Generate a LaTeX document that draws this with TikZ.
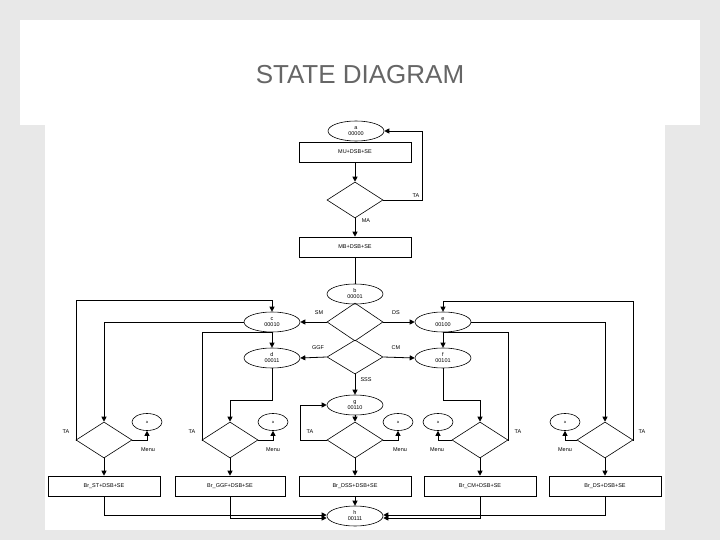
\documentclass[tikz,border=0pt]{standalone}
\usepackage{fontspec}
\setmainfont{Liberation Sans}
\usetikzlibrary{shapes.geometric,arrows.meta}
\begin{document}
\begin{tikzpicture}[x=1pt,y=-1pt,
  st/.style={ellipse,draw,line width=0.6pt,minimum width=56pt,minimum height=20pt,inner sep=0pt,font=\fontsize{5.5}{6}\selectfont,align=center},
  sm/.style={ellipse,draw,line width=0.6pt,minimum width=30pt,minimum height=17pt,inner sep=0pt,font=\fontsize{4}{4}\selectfont},
  bx/.style={rectangle,draw,line width=0.6pt,minimum width=112pt,minimum height=20pt,inner sep=0pt,font=\fontsize{5.5}{6}\selectfont},
  dm/.style={diamond,draw,line width=0.6pt,minimum width=56pt,minimum height=36pt,inner sep=0pt,aspect=1.5},
  ar/.style={-{Triangle[length=5pt,width=5pt]},line width=0.8pt},
  ln/.style={line width=0.8pt},
  lb/.style={font=\fontsize{5.5}{6}\selectfont,inner sep=1pt}]
\fill[gray!18] (0,0) rectangle (720,540);
\useasboundingbox (0,0) rectangle (720,540);
\fill[white] (20,20) rectangle (700,125);
\fill[white] (45,118) rectangle (665,530);
\node[text=black!60,font=\fontsize{26}{28}\selectfont] (title) at (360,75) {STATE DIAGRAM};
% top chain
\node[st] (a) at (356,131) {a\\00000};
\node[bx] (mu) at (355,152) {MU+DSB+SE};
\node[dm] (d1) at (355,200) {};
\node[bx] (mb) at (355,247) {MB+DSB+SE};
\node[st] (b) at (355,294) {b\\00001};
\draw[ar] (mu) -- (d1);
\coordinate (t1) at (422,200);
\draw[ar] (d1.east) -- (t1) |- (a.east);
\node[lb] (lta) at (416,196) {TA};
\draw[ar] (d1.south) -- (mb.north);
\node[lb] (lma) at (366,221) {MA};
\draw[ln] (mb.south) -- (b.north);
% central diamonds
\node[dm,minimum height=38pt] (du) at (355,322) {};
\node[dm,minimum height=34pt] (dl) at (355,357) {};
\node[st] (c) at (272,322) {c\\00010};
\node[st] (e) at (443,322) {e\\00100};
\node[st] (d) at (272,358) {d\\00011};
\node[st] (f) at (443,358) {f\\00101};
\draw[ar] (du.west) -- (c.east);
\draw[ar] (du.east) -- (e.west);
\draw[ar] (dl.west) -- (d.east);
\draw[ar] (dl.east) -- (f.west);
\node[lb] (lsm) at (319,313) {SM};
\node[lb] (lds) at (396,313) {DS};
\node[lb] (lggf) at (318,348) {GGF};
\node[lb] (lcm) at (396,348) {CM};
\node[st] (g) at (355,405) {g\\00110};
\draw[ar] (dl.south) -- (g.north);
\node[lb] (lsss) at (366,380) {SSS};
\draw[ar] (c.south) -- (d.north);
\draw[ar] (e.south) -- (f.north);
% bottom diamonds
\foreach \n/\x in {b1/104,b2/230,b3/355,b4/480,b5/605}{\node[dm] (\n) at (\x,440) {};}
\node[sm] (m1) at (147,422) {a};
\node[sm] (m2) at (273,422) {a};
\node[sm] (m3) at (398,422) {a};
\node[sm] (m4) at (438,422) {a};
\node[sm] (m5) at (565,422) {a};
\draw[ar] (b1.east) -| (m1.south);
\draw[ar] (b2.east) -| (m2.south);
\draw[ar] (b3.east) -| (m3.south);
\draw[ar] (b4.west) -| (m4.south);
\draw[ar] (b5.west) -| (m5.south);
\node[lb] (mn1) at (148,450) {Menu};
\node[lb] (mn2) at (273,450) {Menu};
\node[lb] (mn3) at (400,450) {Menu};
\node[lb] (mn4) at (437,450) {Menu};
\node[lb] (mn5) at (565,450) {Menu};
% left routes
\coordinate (p1) at (76,440);
\draw[ar] (b1.west) -- (p1) |- (272,300) -- (c.north);
\draw[ar] (c.west) -| (b1.north);
\coordinate (p2) at (202,332);
\draw[ln] (b2.west) -- (202,440) |- (272,332);
\draw[ln] (d.south) |- (230,400);
\draw[ar] (230,400) -- (b2.north);
\node[lb] (ta1) at (66,432) {TA};
\node[lb] (ta2) at (192,432) {TA};
% center route
\draw[ar] (g.south) -- (b3.north);
\draw[ar] (b3.west) -- (300,440) |- (g.west);
\node[lb] (ta3) at (310,432) {TA};
% right routes
\draw[ar] (b5.east) -- (633,440) |- (443,301) -- (e.north);
\draw[ar] (e.east) -| (b5.north);
\draw[ln] (b4.east) -- (508,440) |- (443,332);
\draw[ln] (f.south) |- (480,400);
\draw[ar] (480,400) -- (b4.north);
\node[lb] (ta4) at (518,432) {TA};
\node[lb] (ta5) at (642,432) {TA};
% boxes
\node[bx] (r1) at (104,486) {Br\_ST+DSB+SE};
\node[bx,minimum width=110pt] (r2) at (230,486) {Br\_GGF+DSB+SE};
\node[bx] (r3) at (355,486) {Br\_DSS+DSB+SE};
\node[bx] (r4) at (480,486) {Br\_CM+DSB+SE};
\node[bx] (r5) at (605,486) {Br\_DS+DSB+SE};
\foreach \i in {1,...,5}{\draw[ar] (b\i.south) -- (r\i.north);}
\node[st] (h) at (355,516) {h\\00111};
\draw[ar] (r3) -- (h);
\draw[ar] (r1.south) |- ([yshift=1pt]h.west);
\draw[ar] (r2.south) |- ([yshift=-2pt]h.west);
\draw[ar] (r4.south) |- ([yshift=-2pt]h.east);
\draw[ar] (r5.south) |- ([yshift=1pt]h.east);
\end{tikzpicture}
\end{document}
